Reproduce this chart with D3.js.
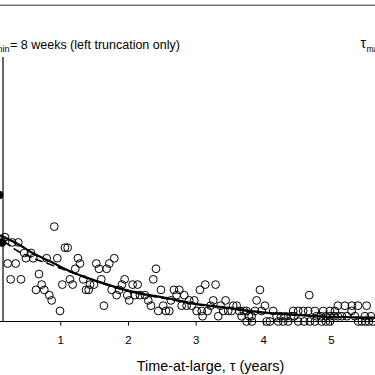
<!DOCTYPE html>
<html>
<head>
<meta charset="utf-8">
<script src="https://cdn.jsdelivr.net/npm/d3@7"></script>
<style>
  html, body { margin: 0; padding: 0; background: #fff; }
  svg { display: block; font-family: "Liberation Sans", Arial, sans-serif; }
</style>
</head>
<body>
<svg id="chart" width="375" height="375"></svg>
<script>
// ---- data (time-at-large in years, count per bin) ----
const openTau = [
  0.183,0.291,0.380,0.911,0.223,0.341,0.267,0.419,0.468,0.493,0.567,0.601,1.069,1.109,0.799,0.956,
  0.685,0.641,0.725,0.764,0.838,0.873,0.996,1.030,1.143,1.183,1.222,1.261,1.291,1.340,1.380,1.420,
  1.439,1.498,1.532,1.572,1.606,1.645,1.685,1.724,1.798,1.759,1.833,1.871,1.911,1.951,1.990,2.019,
  2.069,2.143,2.103,2.177,2.251,2.300,2.340,2.374,2.414,2.488,2.448,2.521,2.561,2.610,2.635,2.679,
  2.758,2.719,2.793,2.832,2.867,2.941,2.905,2.979,3.015,3.063,3.103,3.142,3.177,3.222,3.260,3.295,
  3.334,3.369,3.408,3.481,3.443,3.555,3.606,3.644,3.713,3.679,3.753,3.787,3.089,3.532,3.753,3.827,3.832,
  3.950,4.678,3.901,
  4.024,5.102,5.205,5.309,5.398,5.526,
  3.876,3.975,4.146,4.442,4.516,4.589,4.663,4.762,4.885,4.984,5.058,5.304,
  4.196,4.260,4.329,4.408,4.457,4.787,4.851,4.925,4.984,5.043,5.102,5.161,5.235,5.353,5.501,5.589,
  4.049,4.098,4.220,4.294,4.368,4.516,4.604,4.688,4.762,4.861,4.925,4.984,5.402,5.456,5.508,5.560,5.619
];
const openCount = [
  16,15,15,18,11,11,8,8,13,12,13,12,14,14,12,12,
  9,6,7,6,5,4,2,7,8,7,10,12,11,8,6,6,
  7,7,11,10,8,3,10,11,12,6,5,6,7,8,5,4,
  7,7,5,5,5,4,3,8,10,6,2,3,2,2,4,6,
  6,5,3,5,3,3,4,4,2,6,1,7,2,3,4,7,
  1,3,2,2,4,3,3,2,2,1,0,1,2,2,2,1,0,
  6,5,4,
  3,3,3,3,3,3,
  2,2,2,2,2,2,2,2,2,2,2,2,
  1,1,1,1,1,1,1,1,1,1,1,1,1,1,1,1,
  0,0,0,0,0,0,0,0,0,0,0,0,0,0,0,0,0
];
const filledTau = [0.095, 0.139];
const filledCount = [24, 15];

// fitted curves
const fitTau   = [0.109, 0.405, 0.597, 0.848, 1.143, 1.586, 2.030, 2.620, 2.990, 3.434, 3.950, 4.393, 4.910, 5.650];
const fitCount = [16.35, 14.45, 12.93, 11.41, 9.51, 7.47, 5.76, 4.31, 3.36, 2.66, 1.77, 1.33, 0.95, 0.76];
const dashTau   = [0.168, 0.331, 0.552, 0.848, 1.143, 1.586, 2.030, 2.620, 2.990, 3.434, 3.950, 4.393, 4.910, 5.650];
const dashCount = [15.2, 13.7, 12.26, 10.84, 9.41, 7.35, 5.65, 4.2, 3.28, 2.58, 1.72, 1.28, 0.92, 0.72];

const xTicks = [1, 2, 3, 4, 5];
const tauMin = 8 / 52;   // 8 weeks
const yMax = 60;

// ---- scales ----
const svg = d3.select("#chart");
const x = d3.scaleLinear().domain([0, 5]).range([-7.4, 331]);
const y = d3.scaleLinear().domain([0, yMax]).range([321.5, 5.2]);

// top frame line
svg.append("line")
  .attr("x1", 0).attr("x2", 375)
  .attr("y1", y(yMax)).attr("y2", y(yMax))
  .attr("stroke", "#7a7a7a").attr("stroke-width", 1.6);

// x axis
const xAxis = d3.axisBottom(x).tickValues(xTicks).tickSize(4).tickPadding(10)
  .tickFormat(d3.format("d"));
const gx = svg.append("g").attr("transform", `translate(0,${y(0)})`).call(xAxis);
gx.select(".domain").remove();
gx.selectAll("text").attr("font-size", 11.5).attr("fill", "#000")
  .attr("font-family", "Liberation Sans, Arial, sans-serif");
svg.append("line")
  .attr("x1", 0).attr("x2", 375).attr("y1", y(0)).attr("y2", y(0))
  .attr("stroke", "#000").attr("stroke-width", 1);

// left truncation line
svg.append("line")
  .attr("x1", x(tauMin)).attr("x2", x(tauMin))
  .attr("y1", 57).attr("y2", y(0))
  .attr("stroke", "#000").attr("stroke-width", 1.2);

// fitted curves
const lineGen = d3.line().x(d => x(d[0])).y(d => y(d[1])).curve(d3.curveMonotoneX);
svg.append("path")
  .datum(dashTau.map((t, i) => [t, dashCount[i]]))
  .attr("d", lineGen).attr("fill", "none")
  .attr("stroke", "#000").attr("stroke-width", 1.5).attr("stroke-dasharray", "8,4");
svg.append("path")
  .datum(fitTau.map((t, i) => [t, fitCount[i]]))
  .attr("d", lineGen).attr("fill", "none")
  .attr("stroke", "#000").attr("stroke-width", 2.2);

// points
svg.append("g").selectAll("circle.open")
  .data(openTau.map((t, i) => [t, openCount[i]]))
  .join("circle")
  .attr("cx", d => x(d[0])).attr("cy", d => y(d[1])).attr("r", 3.9)
  .attr("fill", "#fff").attr("fill-opacity", 0).attr("stroke", "#000").attr("stroke-width", 1);
svg.append("g").selectAll("circle.filled")
  .data(filledTau.map((t, i) => [t, filledCount[i]]))
  .join("circle")
  .attr("cx", d => x(d[0])).attr("cy", d => y(d[1])).attr("r", 3.9)
  .attr("fill", "#000").attr("stroke", "#000");

// annotations
const ann = svg.append("g").attr("font-family", "Liberation Sans, Arial, sans-serif").attr("fill", "#000");
ann.append("text").attr("x", -4.5).attr("y", 48.5).attr("text-anchor", "end")
  .attr("font-size", 14).text("τ");
ann.append("text").attr("x", 9.5).attr("y", 52).attr("text-anchor", "end")
  .attr("font-size", 9).text("min");
ann.append("text").attr("x", 10).attr("y", 48.5)
  .attr("font-size", 12.5).text("= 8 weeks (left truncation only)");
ann.append("text").attr("x", 360.5).attr("y", 47.5)
  .attr("font-size", 14).text("τ");
ann.append("text").attr("x", 366.5).attr("y", 51.5)
  .attr("font-size", 8.5).text("max");

// axis title
svg.append("text").attr("x", 210.5).attr("y", 370.5).attr("text-anchor", "middle")
  .attr("font-size", 14.4).attr("font-family", "Liberation Sans, Arial, sans-serif")
  .text("Time-at-large, τ (years)");
</script>
</body>
</html>
